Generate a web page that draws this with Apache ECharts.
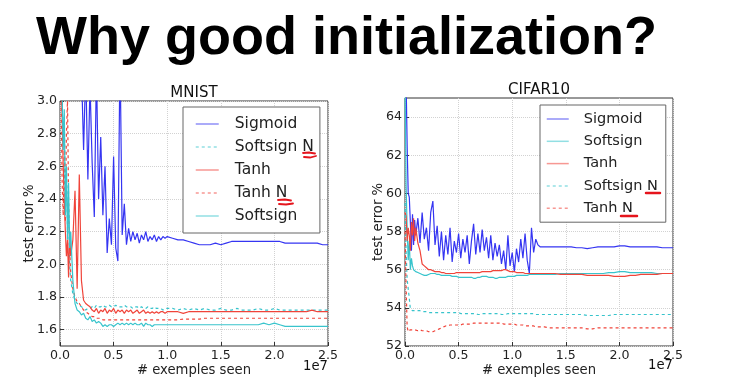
<!DOCTYPE html>
<html><head><meta charset="utf-8">
<script src="https://cdn.jsdelivr.net/npm/echarts@6/dist/echarts.min.js"></script>
<style>html,body{margin:0;padding:0;background:#fff}#c{width:743px;height:392px}</style>
</head><body><div id="c"></div><script>
// ---------- MNIST (x in units of 1e7) ----------
const mnistX = [0,0.01,0.02,0.03,0.04,0.05,0.06,0.07,0.08,0.09,0.10,
  0.12,0.14,0.16,0.18,0.20,0.22,0.24,0.26,0.28,0.30,0.32,0.34,0.36,0.38,0.40,0.42,0.44,0.46,0.48,0.50,
  0.52,0.54,0.56,0.58,0.60,0.62,0.64,0.66,0.68,0.70,0.72,0.74,0.76,0.78,0.80,0.82,0.84,0.86,0.88,0.90,
  0.92,0.94,0.96,0.98,1.00,
  1.05,1.10,1.15,1.20,1.25,1.30,1.35,1.40,1.45,1.50,1.55,1.60,1.65,1.70,1.75,1.80,1.85,1.90,1.95,2.00,
  2.05,2.10,2.15,2.20,2.25,2.30,2.35,2.40,2.45,2.50];
const mnistSigmoid = [4.0,4.0,3.9,3.8,3.8,3.7,3.7,3.6,3.6,3.5,3.5,
  3.4,3.4,3.3,3.3,3.2,2.70,3.2,2.52,3.1,2.62,2.29,3.2,2.40,2.78,2.30,2.60,2.07,2.28,2.12,2.66,
  2.10,2.02,3.3,2.18,2.37,2.12,2.22,2.14,2.20,2.15,2.19,2.13,2.18,2.15,2.20,2.14,2.17,2.15,2.18,2.14,
  2.17,2.15,2.17,2.16,2.17,
  2.16,2.15,2.15,2.14,2.13,2.12,2.12,2.12,2.13,2.12,2.13,2.14,2.14,2.14,2.14,2.14,2.14,2.14,2.14,2.14,
  2.14,2.13,2.13,2.13,2.13,2.13,2.13,2.13,2.12,2.12];
const mnistSoftsignN = [3.5,3.3,3.0,2.75,2.9,2.45,2.6,2.2,2.3,2.0,1.9,
  1.82,1.78,1.76,1.75,1.74,1.73,1.72,1.73,1.73,1.74,1.73,1.75,1.74,1.74,1.75,1.74,1.74,1.75,1.74,1.74,
  1.75,1.74,1.74,1.74,1.75,1.74,1.74,1.74,1.73,1.74,1.74,1.73,1.74,1.73,1.73,1.74,1.73,1.73,1.74,1.73,
  1.73,1.73,1.72,1.73,1.73,
  1.73,1.72,1.73,1.72,1.73,1.72,1.73,1.72,1.72,1.73,1.72,1.72,1.73,1.72,1.72,1.72,1.73,1.72,1.72,1.73,
  1.72,1.72,1.72,1.72,1.72,1.72,1.72,1.72,1.72,1.72];
const mnistTanh = [3.5,3.2,2.9,2.6,2.4,2.2,2.05,2.15,1.92,2.2,2.05,
  2.15,2.45,1.85,2.55,1.9,1.78,1.76,1.75,1.74,1.72,1.71,1.73,1.70,1.72,1.71,1.73,1.70,1.72,1.71,1.73,
  1.70,1.72,1.71,1.72,1.70,1.72,1.71,1.72,1.70,1.71,1.72,1.70,1.71,1.72,1.70,1.71,1.70,1.71,1.70,1.71,
  1.70,1.71,1.71,1.70,1.71,
  1.71,1.71,1.70,1.71,1.71,1.71,1.71,1.71,1.71,1.71,1.71,1.71,1.71,1.71,1.71,1.71,1.71,1.71,1.71,1.71,
  1.71,1.71,1.71,1.71,1.71,1.71,1.72,1.71,1.71,1.71];
const mnistTanhN = [3.4,3.0,2.5,2.3,2.7,2.26,2.8,3.0,2.4,2.1,1.95,
  1.85,1.8,1.77,1.76,1.74,1.72,1.71,1.70,1.69,1.68,1.68,1.67,1.67,1.67,1.66,1.66,1.66,1.66,1.66,1.66,
  1.66,1.66,1.66,1.66,1.66,1.66,1.66,1.66,1.66,1.66,1.66,1.66,1.66,1.66,1.66,1.66,1.66,1.66,1.66,1.66,
  1.66,1.66,1.66,1.66,1.66,
  1.66,1.66,1.665,1.665,1.665,1.665,1.67,1.67,1.67,1.67,1.67,1.67,1.67,1.67,1.67,1.67,1.67,1.67,1.67,1.67,
  1.67,1.67,1.67,1.67,1.67,1.67,1.67,1.67,1.67,1.67];
const mnistSoftsign = [3.6,3.2,3.05,2.7,2.95,2.3,2.6,2.15,2.5,2.1,2.2,
  1.9,1.76,1.72,1.71,1.69,1.70,1.67,1.66,1.68,1.65,1.66,1.64,1.65,1.64,1.62,1.63,1.62,1.63,1.63,1.62,
  1.63,1.64,1.63,1.64,1.63,1.64,1.63,1.64,1.63,1.64,1.63,1.63,1.64,1.62,1.64,1.63,1.63,1.62,1.63,1.63,
  1.63,1.63,1.63,1.63,1.63,
  1.63,1.63,1.63,1.63,1.63,1.63,1.63,1.63,1.63,1.63,1.63,1.63,1.63,1.63,1.63,1.63,1.63,1.64,1.63,1.64,
  1.63,1.62,1.62,1.62,1.62,1.62,1.62,1.62,1.62,1.62];
const mnistYTicks = [1.6,1.8,2.0,2.2,2.4,2.6,2.8,3.0];
const mnistLegend = ['Sigmoid','Softsign N','Tanh','Tanh N','Softsign'];

// ---------- CIFAR10 ----------
const cifarX = [0,0.01,0.02,0.03,0.04,0.05,0.06,0.07,0.08,0.09,0.10,
  0.12,0.14,0.16,0.18,0.20,0.22,0.24,0.26,0.28,0.30,0.32,0.34,0.36,0.38,0.40,0.42,0.44,0.46,0.48,0.50,
  0.52,0.54,0.56,0.58,0.60,0.62,0.64,0.66,0.68,0.70,0.72,0.74,0.76,0.78,0.80,0.82,0.84,0.86,0.88,0.90,
  0.92,0.94,0.96,0.98,1.00,1.02,1.04,1.06,1.08,1.10,1.12,1.14,1.16,1.18,1.20,1.22,1.24,1.26,
  1.30,1.35,1.40,1.45,1.50,1.55,1.60,1.65,1.70,1.75,1.80,1.85,1.90,1.95,2.00,2.05,2.10,2.15,2.20,2.25,
  2.30,2.35,2.40,2.45,2.50];
const cifarSigmoid = [70,66,62.5,60.0,59.8,58.5,57.0,58.9,57.3,58.6,57.8,
  58.7,57.4,59.0,57.6,58.2,57.0,59.0,59.6,57.3,58.3,56.7,58.0,56.5,57.8,56.8,58.2,56.4,57.5,56.9,57.9,
  56.6,57.6,56.9,57.8,56.3,57.5,58.4,56.8,57.9,56.9,58.1,57.0,57.7,56.6,57.8,56.5,57.4,56.7,57.3,56.3,
  57.0,56.0,57.8,56.2,56.9,55.9,57.1,56.4,57.6,56.6,57.9,56.5,55.8,58.2,56.9,57.6,57.3,57.2,
  57.2,57.2,57.2,57.2,57.2,57.2,57.15,57.15,57.1,57.15,57.2,57.2,57.2,57.2,57.25,57.25,57.2,57.2,57.2,57.2,
  57.2,57.2,57.15,57.15,57.15];
const cifarSoftsign = [66,60.5,58.2,56.5,57.5,56.0,56.6,56.2,56.0,55.9,55.9,
  55.85,55.8,55.75,55.7,55.7,55.75,55.8,55.8,55.8,55.75,55.75,55.7,55.7,55.7,55.7,55.7,55.65,55.65,55.65,55.6,
  55.6,55.6,55.6,55.6,55.6,55.6,55.55,55.55,55.6,55.6,55.65,55.65,55.65,55.6,55.6,55.6,55.55,55.55,55.6,55.6,
  55.6,55.6,55.65,55.65,55.65,55.65,55.7,55.7,55.7,55.7,55.7,55.7,55.75,55.75,55.75,55.75,55.75,55.75,
  55.75,55.75,55.75,55.8,55.8,55.8,55.8,55.8,55.8,55.8,55.8,55.8,55.85,55.85,55.9,55.9,55.85,55.85,55.85,55.85,
  55.85,55.8,55.8,55.8,55.8];
const cifarTanh = [59.0,58.8,57.5,58.2,57.8,57.0,58.5,57.8,58.7,57.5,58.2,
  57.4,57.0,56.3,56.2,56.1,56.0,56.0,55.95,55.9,55.9,55.9,55.85,55.85,55.8,55.8,55.8,55.8,55.8,55.85,55.85,
  55.85,55.85,55.85,55.85,55.85,55.85,55.85,55.85,55.85,55.85,55.9,55.9,55.9,55.9,55.9,55.95,55.95,55.95,55.95,55.95,
  56.0,56.0,55.95,55.9,55.9,55.9,55.85,55.85,55.85,55.85,55.8,55.8,55.8,55.8,55.8,55.8,55.8,55.8,
  55.8,55.8,55.8,55.75,55.75,55.75,55.75,55.75,55.7,55.7,55.7,55.7,55.7,55.65,55.65,55.65,55.7,55.7,55.75,55.75,
  55.75,55.75,55.8,55.8,55.8];
const cifarSoftsignN = [59.5,57.0,55.5,55.0,54.5,53.95,53.9,53.85,53.9,53.85,53.85,
  53.85,53.85,53.8,53.8,53.8,53.75,53.75,53.75,53.75,53.75,53.75,53.75,53.75,53.75,53.75,53.75,53.75,53.75,53.75,53.75,
  53.7,53.7,53.7,53.7,53.7,53.7,53.7,53.7,53.65,53.65,53.7,53.7,53.7,53.7,53.7,53.7,53.7,53.7,53.7,53.65,
  53.65,53.65,53.7,53.7,53.7,53.7,53.7,53.7,53.7,53.7,53.7,53.7,53.7,53.7,53.7,53.65,53.65,53.65,
  53.65,53.65,53.65,53.65,53.65,53.65,53.65,53.65,53.6,53.6,53.6,53.6,53.6,53.65,53.65,53.65,53.65,53.65,53.65,53.65,
  53.65,53.65,53.65,53.65,53.65];
const cifarTanhN = [58.0,55.2,53.0,52.75,52.8,52.85,52.8,52.85,52.8,52.85,52.85,
  52.8,52.85,52.8,52.8,52.8,52.75,52.75,52.75,52.8,52.85,52.9,52.95,53.0,53.05,53.05,53.1,53.1,53.1,53.1,53.1,
  53.1,53.15,53.15,53.15,53.15,53.15,53.2,53.2,53.2,53.2,53.2,53.2,53.2,53.2,53.2,53.2,53.2,53.2,53.2,53.2,
  53.15,53.15,53.15,53.15,53.15,53.15,53.1,53.1,53.1,53.1,53.05,53.05,53.05,53.05,53.05,53.0,53.0,53.0,
  53.0,52.95,52.95,52.95,52.95,52.95,52.95,52.95,52.9,52.9,52.95,52.95,52.95,52.95,52.95,52.95,52.95,52.95,52.95,52.95,
  52.95,52.95,52.95,52.95,52.95];
const cifarYTicks = [52,54,56,58,60,62,64];
const cifarLegend = ['Sigmoid','Softsign','Tanh','Softsign N','Tanh N'];
const xTicks = [0,0.5,1.0,1.5,2.0,2.5];

// ---------- styling ----------
const FONT = 'DejaVu Sans';
const BLUE = '#3535f2', CYAN = '#38c4cc', RED = '#f0443a';
const styleOf = {
  'Sigmoid':    {color: BLUE, type: 'solid'},
  'Softsign':   {color: CYAN, type: 'solid'},
  'Tanh':       {color: RED,  type: 'solid'},
  'Softsign N': {color: CYAN, type: [3, 3]},
  'Tanh N':     {color: RED,  type: [3, 3]}
};
function mk(name, xs, ys, gi) {
  const st = styleOf[name];
  return {
    type: 'line', name: name, xAxisIndex: gi, yAxisIndex: gi,
    data: xs.map((x, i) => [x, ys[i]]),
    symbol: 'none', showSymbol: false, clip: true, animation: false,
    lineStyle: {color: st.color, width: 1.2, type: st.type},
    itemStyle: {color: st.color}
  };
}
const series = [
  mk('Sigmoid', mnistX, mnistSigmoid, 0),
  mk('Softsign N', mnistX, mnistSoftsignN, 0),
  mk('Tanh', mnistX, mnistTanh, 0),
  mk('Tanh N', mnistX, mnistTanhN, 0),
  mk('Softsign', mnistX, mnistSoftsign, 0),
  mk('Sigmoid', cifarX, cifarSigmoid, 1),
  mk('Softsign', cifarX, cifarSoftsign, 1),
  mk('Tanh', cifarX, cifarTanh, 1),
  mk('Softsign N', cifarX, cifarSoftsignN, 1),
  mk('Tanh N', cifarX, cifarTanhN, 1)
];

function xAxis(gi) {
  return {
    gridIndex: gi, type: 'value', min: 0, max: 2.5, interval: 0.5,
    name: '# exemples seen', nameLocation: 'middle', nameGap: 18, nameMoveOverlap: false,
    nameTextStyle: {fontFamily: FONT, fontSize: 13.2, color: '#222'},
    axisLine: {show: false},
    axisTick: {inside: true, length: 4, lineStyle: {color: '#333'}, customValues: xTicks},
    axisLabel: {customValues: xTicks, formatter: v => v.toFixed(1), margin: 3, fontFamily: FONT, fontSize: 12.6, color: '#222'},
    splitLine: {show: true, lineStyle: {type: 'dotted', color: '#d2d2d2', width: 1}}
  };
}
function yAxis(gi, min, max, ticks, fmt, gap) {
  return {
    gridIndex: gi, type: 'value', min: min, max: max,
    name: 'test error %', nameLocation: 'middle', nameGap: gap, nameMoveOverlap: false,
    nameTextStyle: {fontFamily: FONT, fontSize: 13.2, color: '#222'},
    axisLine: {show: false},
    axisTick: {inside: true, length: 4, lineStyle: {color: '#333'}, customValues: ticks},
    axisLabel: {customValues: ticks, formatter: fmt, margin: 3, fontFamily: FONT, fontSize: 12.6, color: '#222'},
    splitLine: {show: true, lineStyle: {type: 'dotted', color: '#d2d2d2', width: 1}}
  };
}
function legend(data, left, top, pad, fs, gap, iw, tpad) {
  return {
    data: data, orient: 'vertical', left: left, top: top, padding: pad,
    itemWidth: iw, itemHeight: 14, itemGap: gap,
    backgroundColor: '#fff', borderColor: '#666', borderWidth: 1, borderRadius: 0,
    textStyle: {fontFamily: FONT, fontSize: fs, lineHeight: 16, color: '#222', padding: [0, 0, 0, tpad]},
    lineStyle: {opacity: 0.55, width: 1.5},
    itemStyle: {opacity: 0},
    selectedMode: false
  };
}
function uline(points, w) {
  return {type: 'polyline', z: 100, shape: {points: points},
    style: {stroke: '#e5141c', lineWidth: w, fill: null, lineCap: 'round'}};
}
function txt(text, x, y, font, align) {
  return {type: 'text', z: 100, style: {text: text, x: x, y: y, font: font, fill: '#111',
    textAlign: align, align: align, textVerticalAlign: 'middle', verticalAlign: 'middle'}};
}

const chart = echarts.init(document.getElementById('c'), null, {renderer: 'canvas'});
chart.setOption({
  backgroundColor: '#fff',
  animation: false,
  grid: [
    {left: 60, top: 101, width: 268, height: 245, show: true, borderColor: '#333', borderWidth: 1, backgroundColor: 'transparent'},
    {left: 405, top: 98, width: 268, height: 248, show: true, borderColor: '#333', borderWidth: 1, backgroundColor: 'transparent'}
  ],
  xAxis: [xAxis(0), xAxis(1)],
  yAxis: [
    yAxis(0, 1.5, 3.0, mnistYTicks, v => v.toFixed(1), 24),
    yAxis(1, 52, 65, cifarYTicks, v => String(v), 20)
  ],
  legend: [
    legend(mnistLegend, 183, 107, [9, 6, 9, 12], 15.5, 7, 23, 11),
    legend(cifarLegend, 540, 105, [6, 8, 6, 6], 14.5, 6.3, 22, 10)
  ],
  series: series,
  graphic: [
    {type: 'text', z: 100, style: {text: 'Why good initialization?', x: 36, y: 39,
      font: 'bold 54px "Liberation Sans"', fill: '#000', textVerticalAlign: 'middle', verticalAlign: 'middle'}},
    txt('MNIST', 194, 93, '15px "DejaVu Sans"', 'center'),
    txt('CIFAR10', 539, 90.5, '15px "DejaVu Sans"', 'center'),
    txt('1e7', 328, 367, '13.2px "DejaVu Sans"', 'right'),
    txt('1e7', 673, 366, '13.2px "DejaVu Sans"', 'right'),
    uline([[303, 153], [309, 152.5], [315, 153.5]], 1.8),
    uline([[304, 157], [310, 157.5], [316, 156]], 1.8),
    uline([[278, 200], [285, 199.5], [291, 200.5]], 1.8),
    uline([[279, 204], [286, 204.5], [293, 203.5]], 1.8),
    uline([[646, 193], [660, 193]], 2.5),
    uline([[621, 216], [637, 216]], 2.5)
  ]
});
</script></body></html>
